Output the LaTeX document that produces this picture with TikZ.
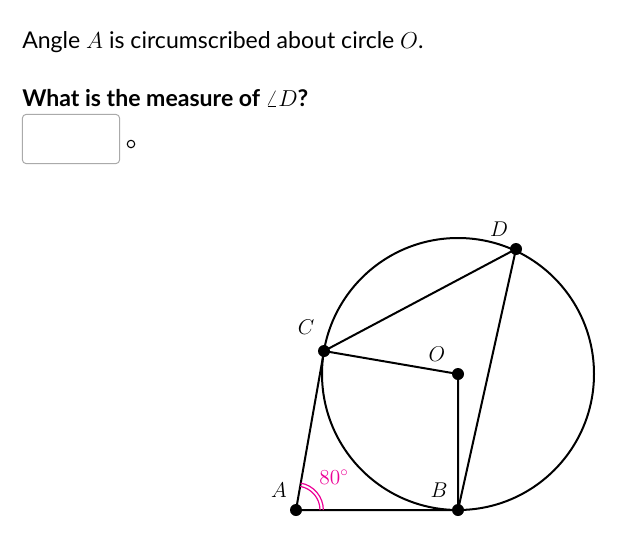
\RequirePackage{fix-cm}
\documentclass[tikz,border=0pt]{standalone}
\usepackage{fontspec}
\setmainfont{Lato}
\definecolor{mag}{RGB}{236,0,150}
\definecolor{boxgray}{RGB}{170,170,170}
\begin{document}
\begin{tikzpicture}[x=0.75pt,y=-0.75pt,
  seg/.style={line width=1.5pt},
  dot/.style={circle,fill=black,inner sep=0pt,minimum size=9pt},
  lbl/.style={font=\fontsize{16}{18}\selectfont},
  qtext/.style={anchor=base west,inner sep=0pt,font=\fontsize{17.3}{20}\selectfont}]
\useasboundingbox (0,0) rectangle (618,536);
\node[qtext] (q1) at (22,48) {Angle $A$ is circumscribed about circle $O$.};
\node[qtext,font=\fontsize{17.3}{20}\selectfont\bfseries] (q2) at (22,106) {What is the measure of $\angle D$?};
\node[draw=boxgray,line width=0.75pt,rounded corners=3pt,minimum width=73pt,minimum height=37pt,inner sep=0pt] (box) at (71,139) {};
\draw[line width=0.8pt] (131,144) circle[radius=2.8pt];
% geometry
\coordinate (O) at (458,374);
\coordinate (B) at (458,510);
\coordinate (A) at (296,510);
\coordinate (C) at (324,351);
\coordinate (D) at (516,249);
\draw[seg] (O) circle[radius=102pt];
\draw[seg] (A) -- (B) -- (D) -- (C) -- cycle;
\draw[seg] (C) -- (O) -- (B);
\draw[mag,line width=0.9pt] ([xshift=18pt]A) arc[start angle=0,end angle=80,radius=18pt];
\draw[mag,line width=0.9pt] ([xshift=20.5pt]A) arc[start angle=0,end angle=80,radius=20.5pt];
\foreach \p in {A,B,C,D,O} \node[dot] (d\p) at (\p) {};
\node[lbl] (lA) at (279,490) {$A$};
\node[lbl] (lB) at (439,490) {$B$};
\node[lbl] (lC) at (306,327) {$C$};
\node[lbl] (lD) at (499,229) {$D$};
\node[lbl] (lO) at (437,354) {$O$};
\node[lbl,text=mag] (l80) at (334,477) {$80^\circ$};
\end{tikzpicture}
\end{document}
